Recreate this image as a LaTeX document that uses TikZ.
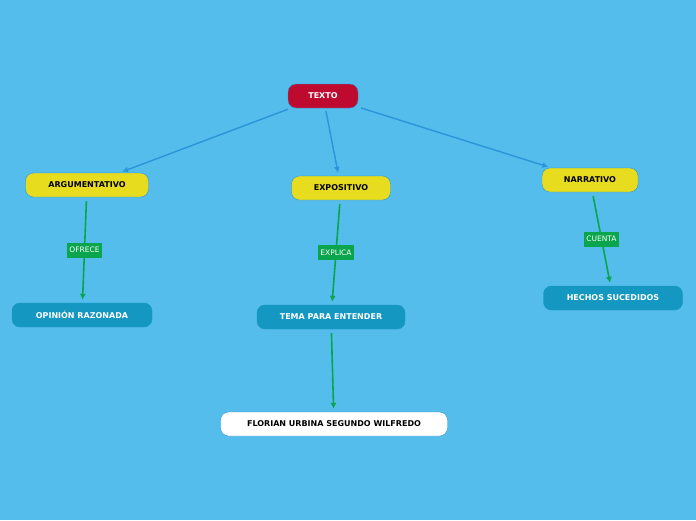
\documentclass[tikz,border=0pt]{standalone}
\usepackage{fontspec}
\setmainfont{DejaVu Sans}
\usetikzlibrary{arrows.meta}
\definecolor{bgblue}{HTML}{54BDEC}
\definecolor{rootred}{HTML}{BE0A2E}
\definecolor{kindyellow}{HTML}{E8DC1E}
\definecolor{leafblue}{HTML}{1497C0}
\definecolor{linkgreen}{HTML}{0AA54C}
\definecolor{edgeblue}{HTML}{2A95D8}
\tikzset{
  box/.style={rounded corners=8pt, minimum height=24pt, inner sep=2pt, font=\fontsize{8}{9}\selectfont\bfseries},
  root/.style={box, fill=rootred, draw=edgeblue, text=white},
  kind/.style={box, fill=kindyellow, draw=edgeblue, text=black},
  leaf/.style={box, fill=leafblue, draw=leafblue, text=white},
  author/.style={box, fill=white, draw=edgeblue, text=black},
  link/.style={fill=linkgreen, text=white, inner sep=2.5pt, minimum height=15pt, font=\fontsize{7.5}{8}\selectfont},
  toblue/.style={edgeblue, line width=1.4pt, -{Latex[length=6pt,width=6pt]}, shorten <=3pt, shorten >=3pt},
  togreen/.style={linkgreen, line width=1.6pt, -{Latex[length=6pt,width=6pt]}, shorten <=4pt, shorten >=3pt}
}
\begin{document}
\begin{tikzpicture}[x=1pt,y=-1pt]
\fill[bgblue] (0,0) rectangle (696,520);
\useasboundingbox (0,0) rectangle (696,520);

% nodes
\node[root, minimum width=70pt] (texto) at (323,96) {TEXTO};
\node[kind, minimum width=123pt] (argu) at (87,185) {ARGUMENTATIVO};
\node[kind, minimum width=99pt] (expo) at (341,188) {EXPOSITIVO};
\node[kind, minimum width=96pt] (narra) at (590,180) {NARRATIVO};
\node[leaf, minimum width=140pt] (opinion) at (82,315) {OPINIÓN RAZONADA};
\node[leaf, minimum width=148pt] (tema) at (331,317) {TEMA PARA ENTENDER};
\node[leaf, minimum width=139pt] (hechos) at (613,298) {HECHOS SUCEDIDOS};
\node[author, minimum width=227pt] (florian) at (334,424) {FLORIAN URBINA SEGUNDO WILFREDO};

% connectors
\draw[toblue] (texto) -- (argu);
\draw[toblue] (texto) -- (expo);
\draw[toblue] (texto) -- (narra);
\draw[togreen] (argu) -- node[link] {OFRECE} (opinion);
\draw[togreen] (expo) -- node[link] {EXPLICA} (tema);
\draw[togreen] (narra) -- node[link] {CUENTA} (hechos);
\draw[togreen] (tema) -- (florian);
\end{tikzpicture}
\end{document}
